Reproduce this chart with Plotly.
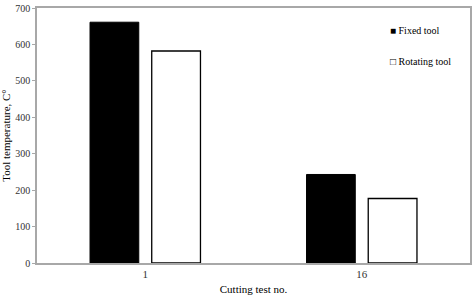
import plotly.graph_objects as go

categories = ["1", "16"]
fixed_tool = [661, 243]
rotating_tool = [582, 177]
y_ticks = [0, 100, 200, 300, 400, 500, 600, 700]

font = "Liberation Serif, Times New Roman, serif"

fig = go.Figure()
fig.add_trace(go.Bar(x=categories, y=fixed_tool, name="Fixed tool",
                     marker=dict(color="black", line=dict(color="black", width=1))))
fig.add_trace(go.Bar(x=categories, y=rotating_tool, name="Rotating tool",
                     marker=dict(color="white", line=dict(color="black", width=1.3))))

fig.update_layout(
    width=474, height=298,
    margin=dict(l=37, r=2, t=5, b=35),
    paper_bgcolor="white", plot_bgcolor="white",
    barmode="group", bargap=0.43, bargroupgap=0.21,
    showlegend=False,
    font=dict(family=font, size=11, color="#333"),
    annotations=[
        dict(text="■ Fixed tool", xref="paper", yref="paper", x=0.81, y=0.91,
             xanchor="left", yanchor="middle", showarrow=False,
             font=dict(family=font, size=10, color="black")),
        dict(text="□ Rotating tool", xref="paper", yref="paper", x=0.81, y=0.79,
             xanchor="left", yanchor="middle", showarrow=False,
             font=dict(family=font, size=10, color="black")),
    ],
)
fig.update_xaxes(type="category", showline=True, mirror=True, linecolor="#a8a8a8",
                 linewidth=1.5, ticks="", showgrid=False,
                 title=dict(text="Cutting test no.", standoff=6,
                            font=dict(family=font, size=11, color="black")),
                 tickfont=dict(family=font, size=11, color="#333"))
fig.update_yaxes(range=[0, 700], tickvals=y_ticks, showline=True, mirror=True,
                 linecolor="#a8a8a8", linewidth=1.5, ticks="outside", ticklen=3,
                 tickcolor="#a8a8a8", showgrid=False, zeroline=False,
                 ticklabeloverflow="allow",
                 title=dict(text="Tool temperature, C°", standoff=6,
                            font=dict(family=font, size=11, color="black")),
                 tickfont=dict(family=font, size=10, color="#333"))

fig.write_html("out.html")
